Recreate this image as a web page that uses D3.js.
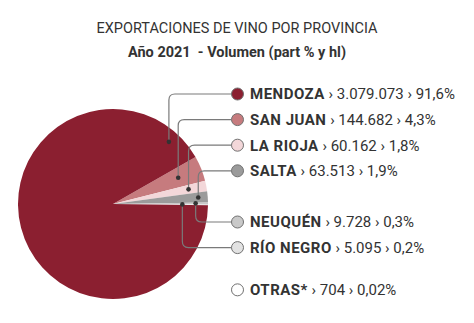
<!DOCTYPE html>
<html><head><meta charset="utf-8">
<script src="https://cdn.jsdelivr.net/npm/d3@7"></script>
<style>html,body{margin:0;padding:0;background:#fff;}svg{display:block;}</style>
</head><body>
<svg id="c" width="474" height="323"></svg>
<script>
const provinces = ["MENDOZA","SAN JUAN","LA RIOJA","SALTA","NEUQUÉN","RÍO NEGRO","OTRAS*"];
const volumes = [3079073,144682,60162,63513,9728,5095,704];
const volumeLabels = ["3.079.073","144.682","60.162","63.513","9.728","5.095","704"];
const shareLabels = ["91,6%","4,3%","1,8%","1,9%","0,3%","0,2%","0,02%"];
const colors = ["#8b1f30","#c67b7e","#f3d7d9","#9b9b9b","#c9c9c9","#e2e2e2","#ffffff"];

const svg = d3.select("#c");
const cx = 113, cy = 204, R = 95;

svg.append("text").attr("x",237).attr("y",33).attr("text-anchor","middle")
  .style("font-family","Roboto").style("font-size","14.5px").style("fill","#333")
  .text("EXPORTACIONES DE VINO POR PROVINCIA");
svg.append("text").attr("x",237).attr("y",57).attr("text-anchor","middle")
  .style("font-family","Roboto").style("font-size","14.5px").style("font-weight","bold").style("fill","#333")
  .attr("xml:space","preserve").text("Año 2021  - Volumen (part % y hl)");

const data = provinces.map((p,i)=>({name:p,value:volumes[i],vol:volumeLabels[i],pct:shareLabels[i],color:colors[i],i}));
const order = [1,2,3,4,5,6,0];
const startDeg = 60.3;
const pie = d3.pie().sort(null).value(d=>d.value)
  .startAngle(startDeg*Math.PI/180).endAngle(startDeg*Math.PI/180+2*Math.PI);
const arcs = pie(order.map(k=>data[k]));
const arc = d3.arc().innerRadius(0).outerRadius(R);
const g = svg.append("g").attr("transform",`translate(${cx},${cy})`);
g.selectAll("path").data(arcs).join("path").attr("d",arc).attr("fill",d=>d.data.color);

const slots = [0,1,2,3,5,6,7.65];
const ly0 = 94, lstep = 25.6, lcx = 237.5, lr = 6;
const lg = svg.append("g");
data.forEach((d,i)=>{
  const y = ly0 + slots[i]*lstep;
  d.ly = y;
  lg.append("circle").attr("cx",lcx).attr("cy",y).attr("r",lr)
    .attr("fill",d.color).attr("stroke","#707070").attr("stroke-width",1);
  const t = lg.append("text").attr("x",250).attr("y",y+5.3)
    .style("font-family","Roboto").style("font-size","15px").style("fill","#333");
  t.append("tspan").style("font-weight","bold").style("letter-spacing","0.5px").text(d.name);
  t.append("tspan").text(" › "+d.vol+" › "+d.pct);
});

const leaderR = {0:0.88,1:0.74,2:0.81,3:0.9,4:0.87,5:0.73};
const leaderA = {0:-0.32};
const lines = svg.append("g");
arcs.forEach(a=>{
  const k = a.data.i;
  if(!(k in leaderR)) return;
  let ang = (k===0) ? a.endAngle + leaderA[0] - 2*Math.PI : (a.startAngle+a.endAngle)/2;
  const rr = leaderR[k]*R;
  const px = cx + rr*Math.sin(ang), py = cy - rr*Math.cos(ang);
  const y = a.data.ly, ex = lcx - lr, c = 6;
  const s = (y < py) ? -1 : 1;
  const p = d3.path();
  p.moveTo(px,py);
  p.lineTo(px, y - s*c);
  p.quadraticCurveTo(px, y, px+c, y);
  p.lineTo(ex, y);
  lines.append("path").attr("d",p.toString()).attr("fill","none")
    .attr("stroke","#7a7a7a").attr("stroke-width",1.2);
  lines.append("circle").attr("cx",px).attr("cy",py).attr("r",2.3).attr("fill","#333");
});
</script>
</body></html>
